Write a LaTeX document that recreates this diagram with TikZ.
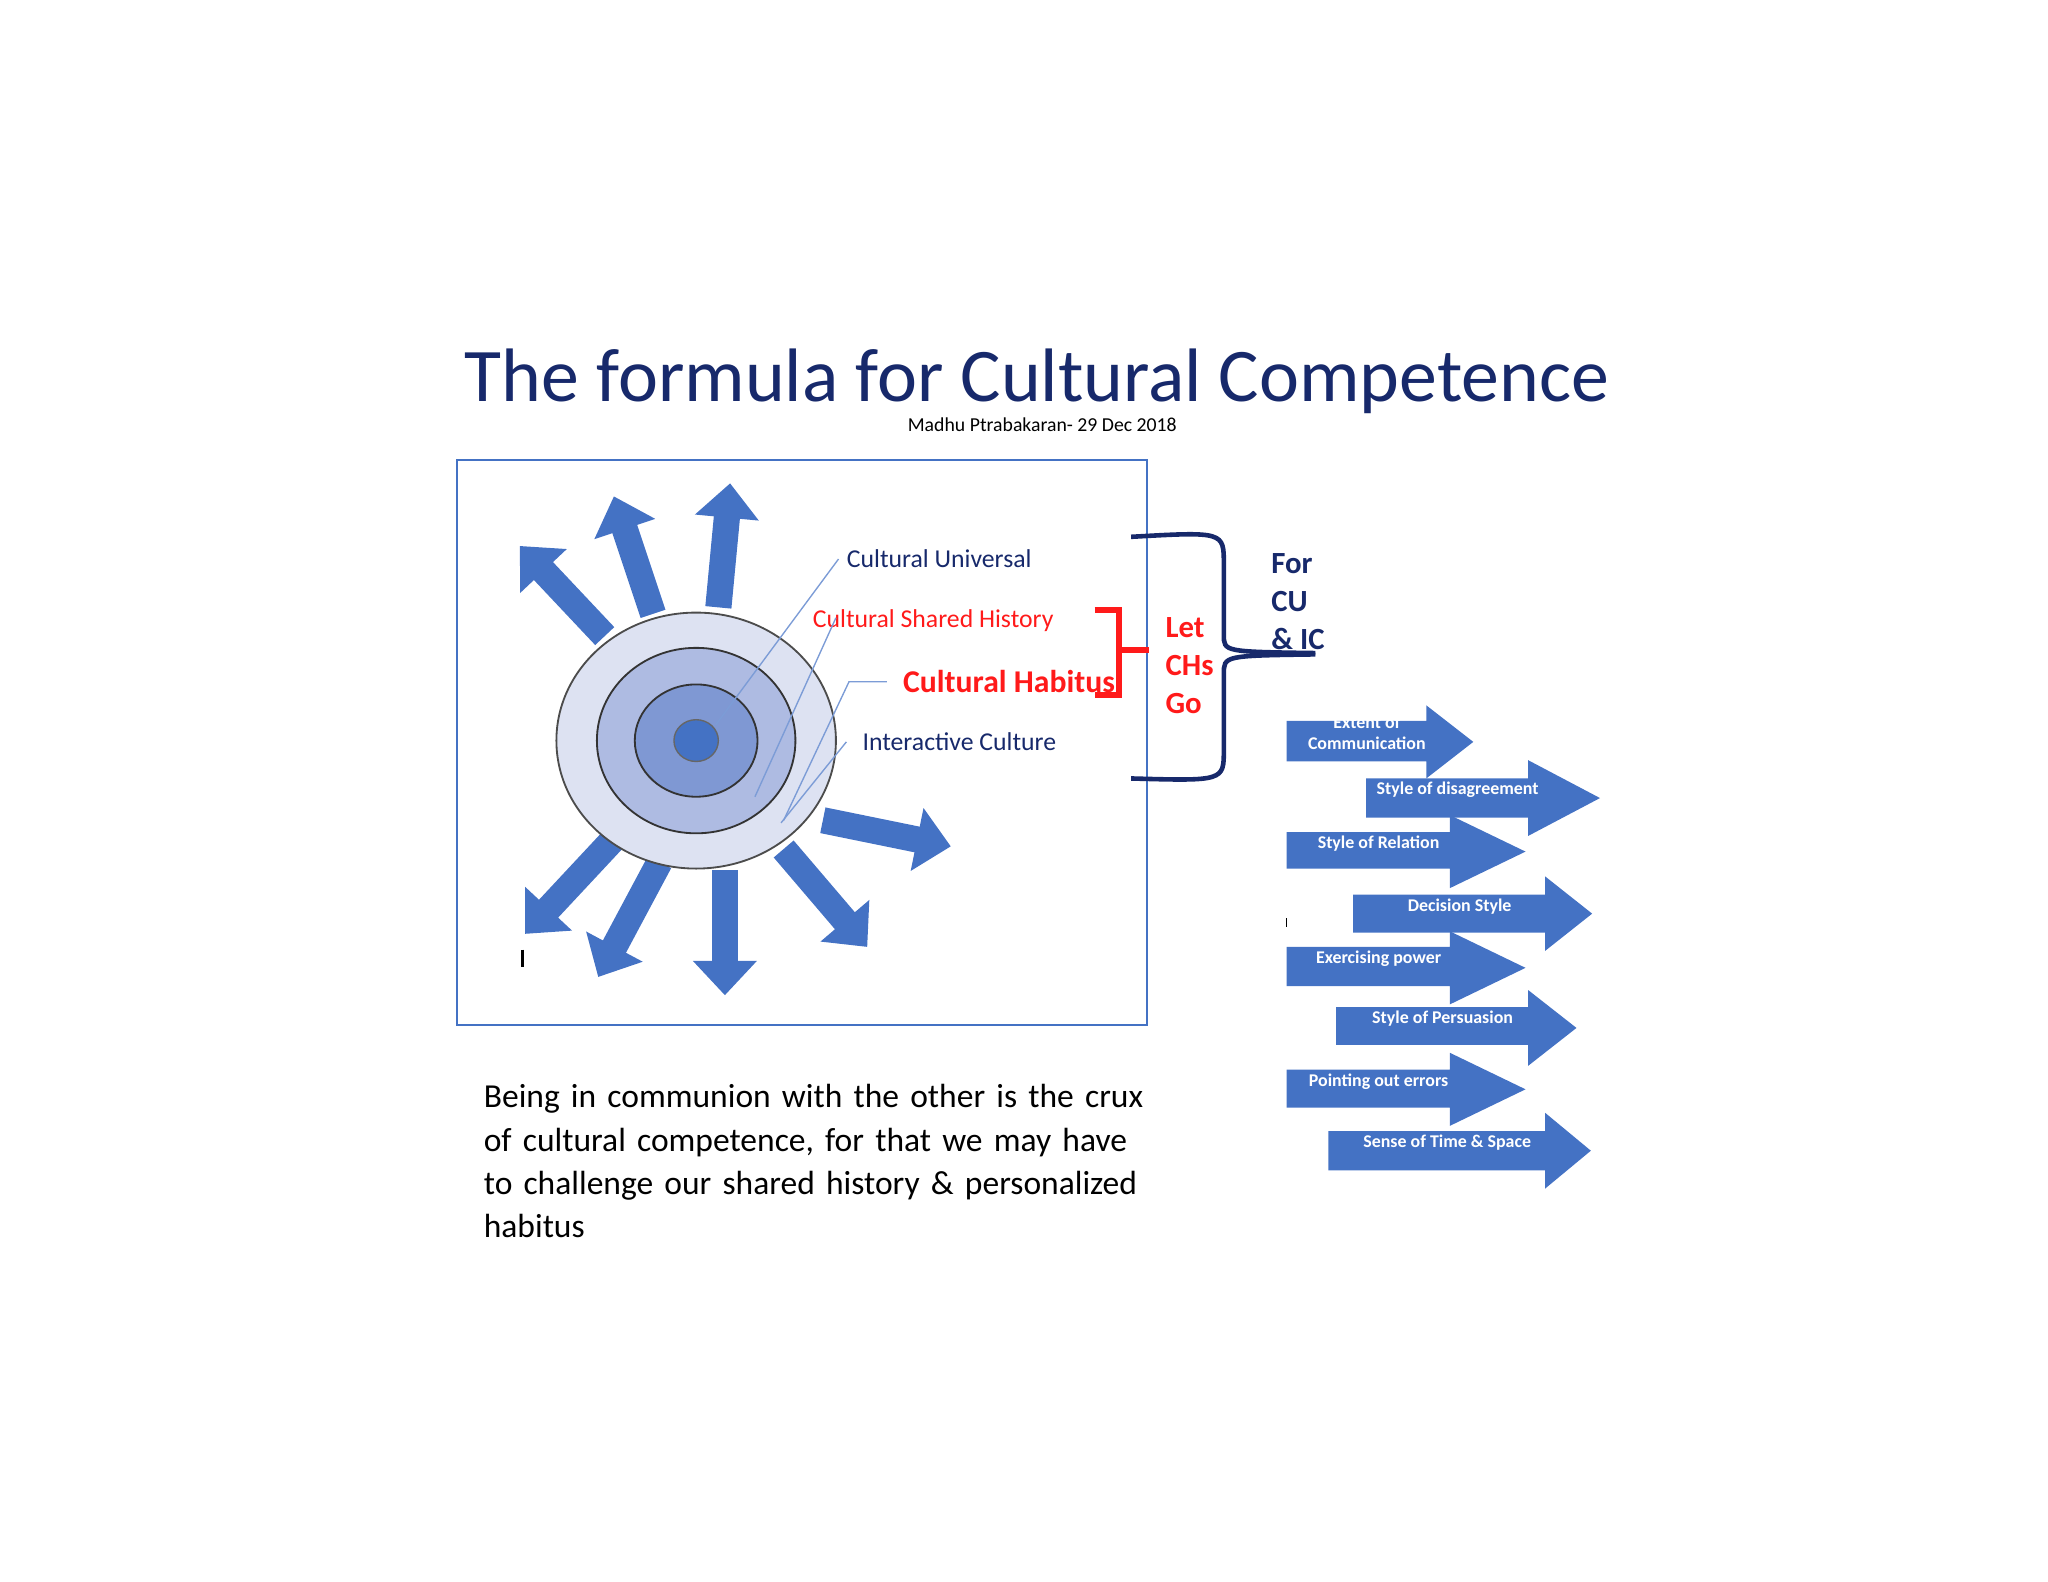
\documentclass[tikz,border=0pt]{standalone}
\usepackage{fontspec}
\setmainfont{Carlito}
\usetikzlibrary{calc,arrows.meta}
\usepackage{xcolor}
\definecolor{b1}{HTML}{4472C4}
\definecolor{navy}{HTML}{17296B}
\definecolor{r1}{HTML}{FF1A1A}
\definecolor{ring1}{HTML}{DDE2F2}
\definecolor{ring2}{HTML}{AEBBE2}
\definecolor{ring3}{HTML}{7F98D3}

% block arrow: x1, body top, body bottom, head base, tip, head top, head bottom, text
\newcommand{\blockarrow}[8]{%
  \fill [b1] (#1,#2) -- (#4,#2) -- (#4,#6) -- (#5,{(#6+#7)/2}) -- (#4,#7)
    -- (#4,#3) -- (#1,#3) -- cycle;
  \node [text = white, font = \fontsize{3.9}{4.4}\selectfont\bfseries, align = center]
    at ({(#1+#4)/2+8},{#2+9}) {#8};}

\begin{document}
\begin{tikzpicture} [x = 0.01cm, y = -0.01cm,
	spoke/.style = {b1, line width = 5.7pt,
		-{Triangle[length = 7.5pt, width = 13.5pt]}},
	leader/.style = {b1!70, line width = 0.3pt}]
\useasboundingbox (0,0) rectangle (1568,1211);

% title:
\node (title) [text = navy, font = \fontsize{16.5}{18}\selectfont] at (794,292)
	{The formula for Cultural Competence};
\node (author) [font = \fontsize{4.3}{5}\selectfont] at (798,325)
	{Madhu Ptrabakaran- 29 Dec 2018};

% frame:
\draw [b1, line width = 0.4pt] (350,352) rectangle (878,785);

% spokes:
\draw [spoke] (463,487) -- (398,418);
\draw [spoke] (500,470) -- (470,380);
\draw [spoke] (550,465) -- (559,370);
\draw [spoke] (630,628) -- (728,648);
\draw [spoke] (600,650) -- (664,725);
\draw [spoke] (555,666) -- (555,762);
\draw [spoke] (505,660) -- (458,748);
\draw [spoke] (472,640) -- (402,715);

% rings:
\draw [fill = ring1, draw = black!70, line width = 0.4pt] (533,567) coordinate (O)
	ellipse [x radius = 107, y radius = 98];
\draw [fill = ring2, draw = black!80, line width = 0.4pt] (O) ellipse [x radius = 76, y radius = 71];
\draw [fill = ring3, draw = black!80, line width = 0.4pt] (O) ellipse [x radius = 47, y radius = 43];
\draw [fill = b1, draw = black!60, line width = 0.3pt] (O) ellipse [x radius = 17, y radius = 16];

% labels:
\node (cu) [anchor = west, text = navy, font = \fontsize{5.6}{6}\selectfont] at (636,428)
	{Cultural Universal};
\node (csh) [anchor = west, text = r1, font = \fontsize{5.6}{6}\selectfont] at (610,475)
	{Cultural Shared History};
\node (ch) [anchor = west, text = r1, font = \fontsize{6.9}{7}\selectfont\bfseries] at (679,522)
	{Cultural Habitus};
\node (ic) [anchor = west, text = navy, font = \fontsize{5.6}{6}\selectfont] at (648,568)
	{Interactive Culture};

% leaders:
\draw [leader] (cu.west) ++(6,0) -- (548,555);
\draw [leader] (csh.west) ++(30,-2) -- (578,610);
\draw [leader] (ch.west) -- (650,522) -- (600,628);
\draw [leader] (ic.west) -- (598,630);

% red bracket:
\draw [r1, line width = 1.3pt] (838,467) -- (857,467) -- (857,532) -- (838,532)
	(857,498) -- (880,498);
\node (let) [anchor = north west, text = r1, align = left,
	font = \fontsize{6.7}{8.3}\selectfont\bfseries] at (880,460) {Let\\CHs\\Go};

% navy brace:
\draw [navy, line width = 1pt] (866,411) .. controls (937,407) .. (937,432) -- (937,486)
	.. controls (937,499) .. (1007,500);
\draw [navy, line width = 1pt] (1007,501) .. controls (937,502) .. (937,516) -- (937,574)
	.. controls (937,598) .. (866,596);
\node (for) [anchor = north west, text = navy, align = left,
	font = \fontsize{6.7}{8.3}\selectfont\bfseries] at (961,411) {For\\CU\\\& IC};

% statement:
\node (text) [anchor = north west, align = left, text width = 5.2cm,
	font = \fontsize{7.3}{9.4}\selectfont] at (358,818)
	{Being in communion with the other is the crux of cultural competence, for that we may
	have to challenge our shared history \& personalized habitus};

% stray marks:
\draw [line width = 0.6pt] (400,727) -- (400,740);
\draw [line width = 0.4pt] (985,703) -- (985,710);

% dimensions:
\blockarrow{985}{552}{583}{1092}{1128}{540}{596}{Extent of\\Communication}
\blockarrow{1046}{596}{626}{1170}{1225}{582}{640}{Style of disagreement}
\blockarrow{985}{637}{665}{1110}{1168}{624}{680}{Style of Relation}
\blockarrow{1036}{685}{714}{1183}{1219}{671}{728}{Decision Style}
\blockarrow{985}{725}{755}{1110}{1168}{713}{769}{Exercising power}
\blockarrow{1023}{771}{800}{1170}{1207}{758}{816}{Style of Persuasion}
\blockarrow{985}{819}{848}{1110}{1168}{806}{862}{Pointing out errors}
\blockarrow{1017}{866}{896}{1183}{1218}{852}{910}{Sense of Time \& Space}
\end{tikzpicture}
\end{document}
